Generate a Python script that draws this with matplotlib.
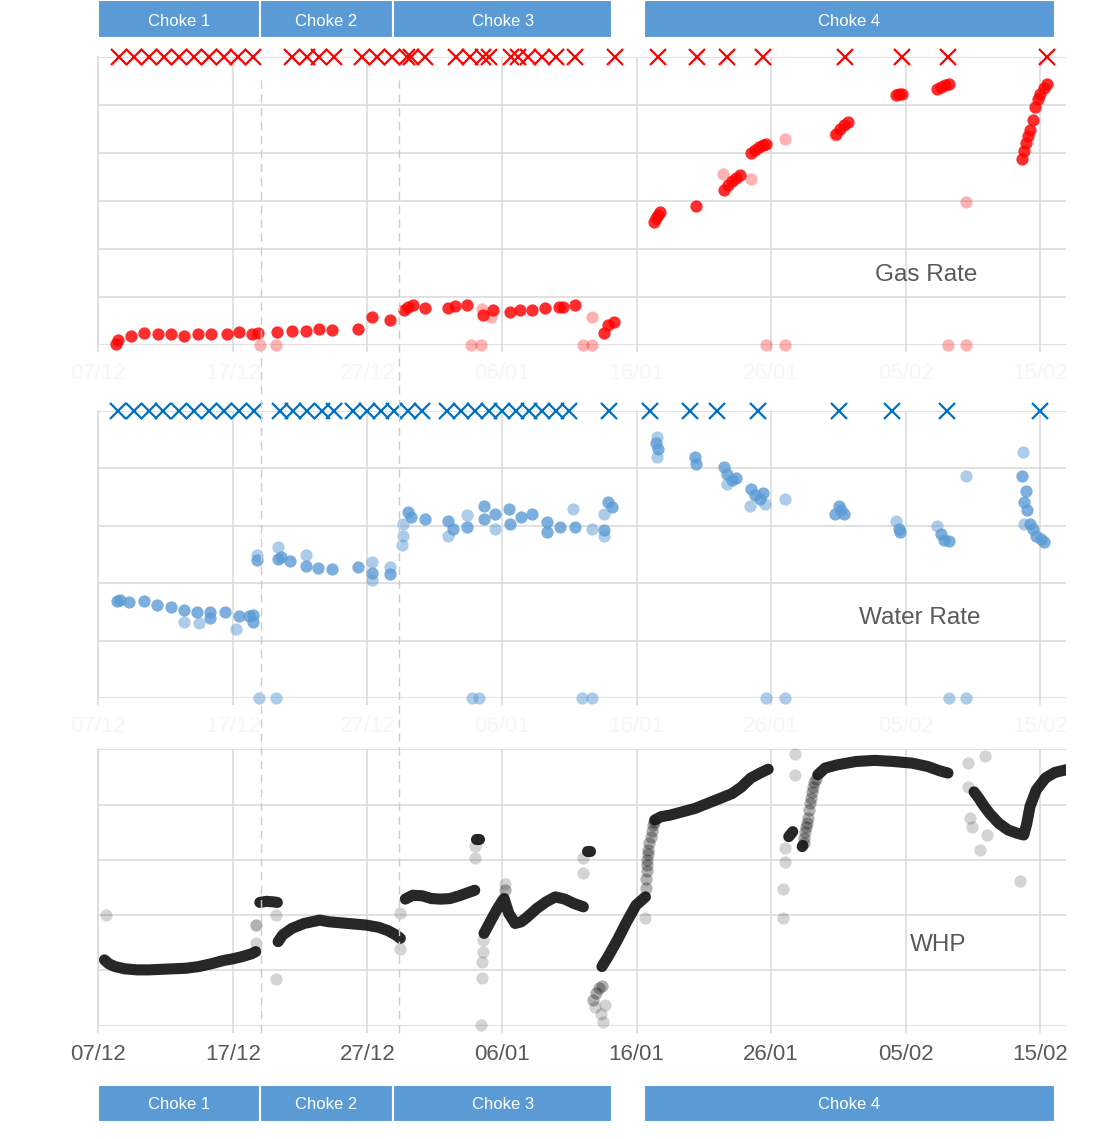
"""Well test overview: gas rate, water rate and WHP across four choke settings."""

import matplotlib

matplotlib.use("Agg")

import matplotlib.dates as mdates
import matplotlib.pyplot as plt
import matplotlib.transforms as mtransforms
import numpy as np
import pandas as pd
from matplotlib.lines import Line2D

plt.rcParams["font.family"] = ["Liberation Sans", "DejaVu Sans"]

START = pd.Timestamp("2017-12-07")
X_END_DAY = 71.9
TICK_DATES = ["2017-12-07", "2017-12-17", "2017-12-27", "2018-01-06",
              "2018-01-16", "2018-01-26", "2018-02-05", "2018-02-15"]

CHOKE_NAMES = ["Choke 1", "Choke 2", "Choke 3", "Choke 4"]
CHOKE_START = [0.0, 12.03, 21.88, 40.54]
CHOKE_END = [12.03, 21.88, 38.2, 71.07]
CHOKE_SWITCH_DAYS = [12.09, 22.36]

# test markers (day offsets from START)
GAS_TEST_DAYS = [1.56, 2.67, 3.77, 4.88, 5.99, 7.09, 8.2, 9.31, 10.4, 11.5,
                 14.4, 15.5, 16.4, 17.5, 19.6, 20.7, 21.8, 22.9, 23.2, 24.3,
                 26.6, 27.6, 28.6, 29.0, 30.7, 31.2, 31.9, 33.0, 34.0, 35.4,
                 38.4, 41.6, 44.5, 46.7, 49.4, 55.5, 59.7, 63.1, 70.5]
WATER_TEST_DAYS = [1.47, 2.62, 3.73, 4.83, 5.98, 7.13, 8.23, 9.34, 10.49, 11.6,
                   13.5, 14.5, 15.5, 16.6, 17.5, 18.95, 19.96, 20.97, 22.0, 23.0,
                   24.06, 25.9, 26.95, 27.97, 29.0, 30.0, 31.0, 31.97, 32.98,
                   34.0, 35.0, 37.95, 41.0, 44.0, 46.0, 49.0, 55.0, 59.0, 63.06, 70.0]

# gas rate (arbitrary units, axis 0-6)
GAS_DAY = [1.29, 1.49, 2.43, 3.42, 4.41, 5.4, 6.39, 7.43, 8.35, 9.54, 10.45, 11.4,
           11.9, 13.3, 14.4, 15.4, 16.4, 17.4, 19.3, 20.3, 21.65, 22.7, 23.0, 23.4,
           24.3, 26.0, 26.5, 27.4, 28.6, 29.3, 30.6, 31.3, 32.2, 33.2, 34.2, 34.5,
           35.4, 37.6, 37.9, 38.3, 41.3, 41.45, 41.6, 41.7, 44.4, 46.5, 46.8, 47.1,
           47.4, 47.7, 48.5, 48.8, 49.1, 49.4, 49.6, 54.8, 55.1, 55.4, 55.7, 59.3,
           59.5, 59.7, 62.3, 62.6, 62.9, 63.2, 68.64, 68.8, 68.95, 69.1, 69.26,
           69.42, 69.6, 69.8, 69.98, 70.25, 70.5]
GAS_RATE = [0.02, 0.1, 0.19, 0.26, 0.22, 0.22, 0.19, 0.22, 0.22, 0.23, 0.28, 0.23,
            0.26, 0.27, 0.3, 0.3, 0.33, 0.31, 0.33, 0.58, 0.53, 0.73, 0.8, 0.83,
            0.78, 0.78, 0.81, 0.83, 0.62, 0.74, 0.69, 0.72, 0.73, 0.78, 0.8, 0.8,
            0.83, 0.24, 0.42, 0.49, 2.57, 2.65, 2.72, 2.78, 2.9, 3.23, 3.33, 3.42,
            3.48, 3.54, 4.0, 4.06, 4.12, 4.17, 4.2, 4.41, 4.5, 4.58, 4.66, 5.22,
            5.23, 5.24, 5.33, 5.38, 5.42, 5.44, 3.87, 4.05, 4.22, 4.36, 4.48,
            4.7, 4.97, 5.12, 5.24, 5.36, 5.45]
GAS_SPARSE_DAY = [12.0, 13.2, 27.7, 28.4, 28.5, 29.2, 36.0, 36.7, 36.7, 46.44,
                  48.47, 51.0, 49.6, 51.0, 63.1, 64.5, 64.5, 54.7]
GAS_SPARSE_RATE = [0.0, 0.0, 0.0, 0.0, 0.76, 0.58, 0.0, 0.0, 0.58, 3.56,
                   3.47, 4.29, 0.0, 0.0, 0.0, 0.0, 2.99, 4.38]

# water rate (arbitrary units, axis 0-5)
WATER_DAY = [1.38, 1.6, 2.3, 3.36, 4.37, 5.38, 6.35, 7.36, 8.28, 8.28, 9.43, 10.44,
             11.2, 11.5, 11.5, 11.82, 13.34, 13.6, 14.26, 15.4, 16.33, 17.34, 19.32,
             20.33, 21.67, 23.0, 23.2, 24.24, 25.98, 26.36, 27.37, 28.66, 28.66,
             29.44, 30.5, 30.6, 31.4, 32.2, 33.35, 33.35, 34.27, 35.4, 37.6, 37.86,
             38.18, 41.4, 41.6, 44.3, 44.4, 46.5, 46.7, 47.1, 47.4, 48.5, 48.8, 49.2,
             49.4, 55.0, 55.2, 55.4, 54.7, 59.5, 59.6, 62.6, 62.8, 63.2, 68.65, 68.9,
             68.8, 69.0, 69.2, 69.45, 69.7, 70.05, 70.3]
WATER_RATE = [1.69, 1.7, 1.68, 1.69, 1.62, 1.59, 1.53, 1.5, 1.5, 1.4, 1.49, 1.42,
              1.42, 1.45, 1.33, 2.4, 2.43, 2.45, 2.38, 2.3, 2.27, 2.25, 2.28,
              2.17, 2.16, 3.24, 3.15, 3.11, 3.09, 2.95, 2.98, 3.35, 3.12,
              3.21, 3.29, 3.03, 3.15, 3.21, 3.06, 2.89, 2.98, 2.98, 2.92, 3.41,
              3.32, 4.45, 4.34, 4.19, 4.08, 4.02, 3.9, 3.79, 3.84, 3.64, 3.53, 3.47,
              3.58, 3.35, 3.27, 3.21, 3.21, 2.95, 2.89, 2.86, 2.75, 2.73, 3.87, 3.61,
              3.41, 3.27, 3.03, 2.95, 2.83, 2.77, 2.72]
WATER_SPARSE_DAY = [6.35, 7.5, 10.26, 11.82, 13.34, 15.4, 20.33, 20.33, 21.67, 22.54,
                    22.63, 22.63, 25.98, 27.37, 29.44, 35.3, 36.7, 37.6, 37.6, 41.5,
                    41.5, 46.7, 48.4, 49.5, 51.0, 59.3, 62.3, 64.5, 68.7, 68.8,
                    11.96, 13.2, 27.74, 28.3, 35.97, 36.7, 49.6, 51.0, 63.2, 64.5]
WATER_SPARSE_RATE = [1.33, 1.3, 1.21, 2.5, 2.63, 2.5, 2.37, 2.05, 2.28, 2.66,
                     2.83, 3.03, 2.83, 3.18, 2.95, 3.29, 2.95, 2.83, 3.21, 4.54,
                     4.19, 3.73, 3.35, 3.38, 3.47, 3.09, 3.0, 3.86, 4.28, 3.03,
                     0.0, 0.0, 0.0, 0.0, 0.0, 0.0, 0.0, 0.0, 0.0, 0.0]

# wellhead pressure (arbitrary units, axis 0-5), continuous logged stretches
WHP_SEGMENTS = [
    ([0.46, 0.78, 1.24, 1.94, 2.86, 3.78, 4.7, 5.62, 6.54, 7.47, 8.39, 9.31, 10.0,
      10.69, 11.38, 11.7],
     [1.19, 1.12, 1.07, 1.03, 1.01, 1.01, 1.02, 1.03, 1.04, 1.07, 1.12, 1.18, 1.21,
      1.25, 1.3, 1.34]),
    ([12.0, 12.5, 13.0, 13.3], [2.23, 2.25, 2.24, 2.23]),
    ([13.36, 13.69, 14.38, 15.3, 16.45, 17.14, 18.06, 18.99, 19.91, 20.83, 21.52,
      22.12, 22.44],
     [1.52, 1.64, 1.76, 1.85, 1.91, 1.88, 1.86, 1.84, 1.82, 1.78, 1.72, 1.64, 1.58]),
    ([22.81, 23.36, 24.06, 24.75, 25.44, 26.13, 26.82, 27.51, 27.97],
     [2.29, 2.36, 2.35, 2.3, 2.29, 2.3, 2.35, 2.41, 2.45]),
    ([28.1, 28.3], [3.37, 3.37]),
    ([28.66, 29.12, 29.59, 30.05, 30.15, 30.5, 30.97, 31.43, 31.89, 32.58, 33.27,
      33.96, 34.65, 35.35, 36.04],
     [1.67, 1.88, 2.09, 2.27, 2.3, 2.03, 1.85, 1.88, 1.97, 2.12, 2.24, 2.33, 2.29,
      2.21, 2.15]),
    ([36.3, 36.5], [3.16, 3.16]),
    ([37.42, 37.88, 38.57, 39.26, 39.95, 40.65], [1.07, 1.25, 1.55, 1.88, 2.18, 2.33]),
    ([41.34, 41.8, 42.49, 43.41, 44.33, 45.25, 46.18, 47.1, 47.79, 48.48, 49.17, 49.77],
     [3.72, 3.78, 3.81, 3.87, 3.93, 4.02, 4.11, 4.2, 4.32, 4.48, 4.57, 4.64]),
    ([51.3, 51.6], [3.42, 3.51]),
    ([52.3, 52.35], [3.24, 3.26]),
    ([53.46, 54.0, 54.93, 56.31, 57.7, 59.08, 60.46, 61.61, 62.53, 63.13],
     [4.54, 4.66, 4.72, 4.78, 4.8, 4.78, 4.75, 4.69, 4.61, 4.57]),
    ([65.07, 65.44, 65.76, 66.22, 66.91, 67.6, 68.29, 68.76, 68.99, 69.22, 69.68,
      70.37, 71.06, 71.9],
     [4.23, 4.11, 3.99, 3.84, 3.66, 3.54, 3.48, 3.45, 3.66, 3.96, 4.26, 4.48, 4.58,
      4.63]),
]
# sparser readings during fast pressure changes
WHP_MID_DAY = [11.75, 40.7, 40.72, 40.74, 40.76, 40.78, 40.82, 40.87, 40.95, 41.1,
               41.17, 41.24, 41.28, 52.4, 52.45, 52.5, 52.58, 52.63, 52.7, 52.78,
               52.86, 52.95, 53.02, 53.09, 53.2, 53.3, 37.19, 36.96, 36.73, 37.42,
               30.2]
WHP_MID = [1.82, 2.5, 2.65, 2.79, 2.9, 3.0, 3.1, 3.18, 3.3, 3.42,
           3.52, 3.63, 3.68, 3.3, 3.4, 3.5, 3.6, 3.66, 3.75, 3.9,
           4.02, 4.12, 4.22, 4.32, 4.4, 4.47, 0.68, 0.59, 0.46, 0.71,
           2.45]
WHP_SPARSE_DAY = [0.55, 11.75, 13.2, 13.2, 22.4, 22.4, 28.0, 28.0, 28.55, 28.5,
                  28.5, 28.4, 28.6, 30.2, 36.05, 36.05, 36.87, 37.33, 37.51, 37.65,
                  40.65, 51.8, 51.8, 51.0, 51.0, 50.9, 50.9, 64.6, 65.85, 64.6,
                  64.75, 64.9, 65.5, 66.0, 68.5]
WHP_SPARSE = [2.0, 1.49, 2.0, 0.84, 1.38, 2.03, 3.25, 3.03, 1.34, 1.16,
              0.86, 0.02, 1.55, 2.56, 3.03, 2.77, 0.34, 0.22, 0.07, 0.37,
              1.94, 4.92, 4.54, 3.21, 2.97, 2.48, 1.94, 4.75, 4.87, 4.32,
              3.75, 3.6, 3.18, 3.45, 2.61]

GRID = "#D9D9D9"
BAND = "#5B9BD5"
TEXT = "#595959"
GHOST = "#F6F6F6"
START_NUM = mdates.date2num(START)
FIG_W, FIG_H = 1113, 1139


def days(values):
    return START_NUM + np.asarray(values, dtype=float)


def px_axes(fig, left, top, right, bottom):
    return fig.add_axes([left / FIG_W, 1 - bottom / FIG_H,
                         (right - left) / FIG_W, (bottom - top) / FIG_H])


def style_axis(ax, ymax, label_color):
    ax.set_xlim(days([0, X_END_DAY]))
    ax.set_ylim(0, ymax)
    ax.set_yticks(range(ymax + 1))
    ax.tick_params(axis="y", length=0, labelleft=False)
    ax.set_xticks(days([(pd.Timestamp(d) - START).days for d in TICK_DATES]))
    ax.xaxis.set_major_formatter(mdates.DateFormatter("%d/%m"))
    ax.tick_params(axis="x", length=5, width=1.1, color=GRID, labelsize=16,
                   labelcolor=label_color, pad=8)
    ax.grid(True, color=GRID, linewidth=1.1)
    ax.set_axisbelow(True)
    for side in ("top", "right", "bottom"):
        ax.spines[side].set_visible(False)
    ax.spines["left"].set_color(GRID)
    ax.spines["left"].set_linewidth(1.1)


def choke_band(fig, top, bottom, text_y):
    ax = px_axes(fig, 98.3, top, 1066, bottom)
    ax.set_xlim(days([0, X_END_DAY]))
    ax.set_ylim(0, 1)
    ax.axis("off")
    for name, s, e in zip(CHOKE_NAMES, CHOKE_START, CHOKE_END):
        ax.barh(0.5, e - s, left=days([s])[0], height=1, color=BAND,
                edgecolor="white", linewidth=1.5)
        ax.text(days([(s + e) / 2])[0], text_y, name, color="white", fontsize=12,
                ha="center", va="center")


fig = plt.figure(figsize=(FIG_W / 100, FIG_H / 100), dpi=100)

ax_gas = px_axes(fig, 98.3, 57.3, 1066, 345)
ax_water = px_axes(fig, 98.3, 411, 1066, 698)
ax_whp = px_axes(fig, 98.3, 749.3, 1066, 1025.7)

style_axis(ax_gas, 6, GHOST)
style_axis(ax_water, 5, GHOST)
style_axis(ax_whp, 5, TEXT)

dot = 78
# gas
ax_gas.scatter(days(GAS_SPARSE_DAY), GAS_SPARSE_RATE, s=dot, color="#FF0000",
               alpha=0.3, linewidths=0, clip_on=False, zorder=3)
ax_gas.scatter(days(GAS_DAY), GAS_RATE, s=dot, color="#FF0000", alpha=0.82,
               linewidths=0, clip_on=False, zorder=3)
ax_gas.plot(days(GAS_TEST_DAYS), [6] * len(GAS_TEST_DAYS), linestyle="none",
            marker="x", markersize=11, markeredgewidth=1.6, color="#FF0000",
            clip_on=False, zorder=4)
ax_gas.text(0.856, 0.243, "Gas Rate", transform=ax_gas.transAxes, fontsize=17.5,
            color=TEXT, ha="center", va="center")

# water
ax_water.scatter(days(WATER_SPARSE_DAY), WATER_SPARSE_RATE, s=dot, color="#5B9BD5",
                 alpha=0.5, linewidths=0, clip_on=False, zorder=3)
ax_water.scatter(days(WATER_DAY), WATER_RATE, s=dot, color="#5B9BD5", alpha=0.8,
                 linewidths=0, clip_on=False, zorder=3)
ax_water.plot(days(WATER_TEST_DAYS), [5] * len(WATER_TEST_DAYS), linestyle="none",
              marker="x", markersize=11, markeredgewidth=1.6, color="#0070C0",
              clip_on=False, zorder=4)
ax_water.text(0.849, 0.279, "Water Rate", transform=ax_water.transAxes,
              fontsize=17.5, color=TEXT, ha="center", va="center")

# WHP
ax_whp.scatter(days(WHP_SPARSE_DAY), WHP_SPARSE, s=dot, color="black", alpha=0.17,
               linewidths=0, clip_on=False, zorder=3)
ax_whp.scatter(days(WHP_MID_DAY), WHP_MID, s=dot, color="black", alpha=0.3,
               linewidths=0, clip_on=False, zorder=3)
for seg_day, seg_val in WHP_SEGMENTS:
    ax_whp.plot(days(seg_day), seg_val, color="#141414", linewidth=8,
                solid_capstyle="round", solid_joinstyle="round", alpha=0.92,
                zorder=3)
ax_whp.text(0.868, 0.292, "WHP", transform=ax_whp.transAxes, fontsize=17.5,
            color=TEXT, ha="center", va="center")

# choke change lines, running through all three panels
blend = mtransforms.blended_transform_factory(ax_gas.transData, fig.transFigure)
for d in CHOKE_SWITCH_DAYS:
    x = days([d])[0]
    fig.add_artist(Line2D([x, x], [1 - 80 / FIG_H, 1 - 1035 / FIG_H],
                          transform=blend, color="#CCCCCC", linewidth=1,
                          linestyle=(0, (6, 4)), zorder=1))

choke_band(fig, 0, 37.5, 0.44)
choke_band(fig, 1084.6, 1122, 0.48)

fig.savefig("out.png", dpi=100)
